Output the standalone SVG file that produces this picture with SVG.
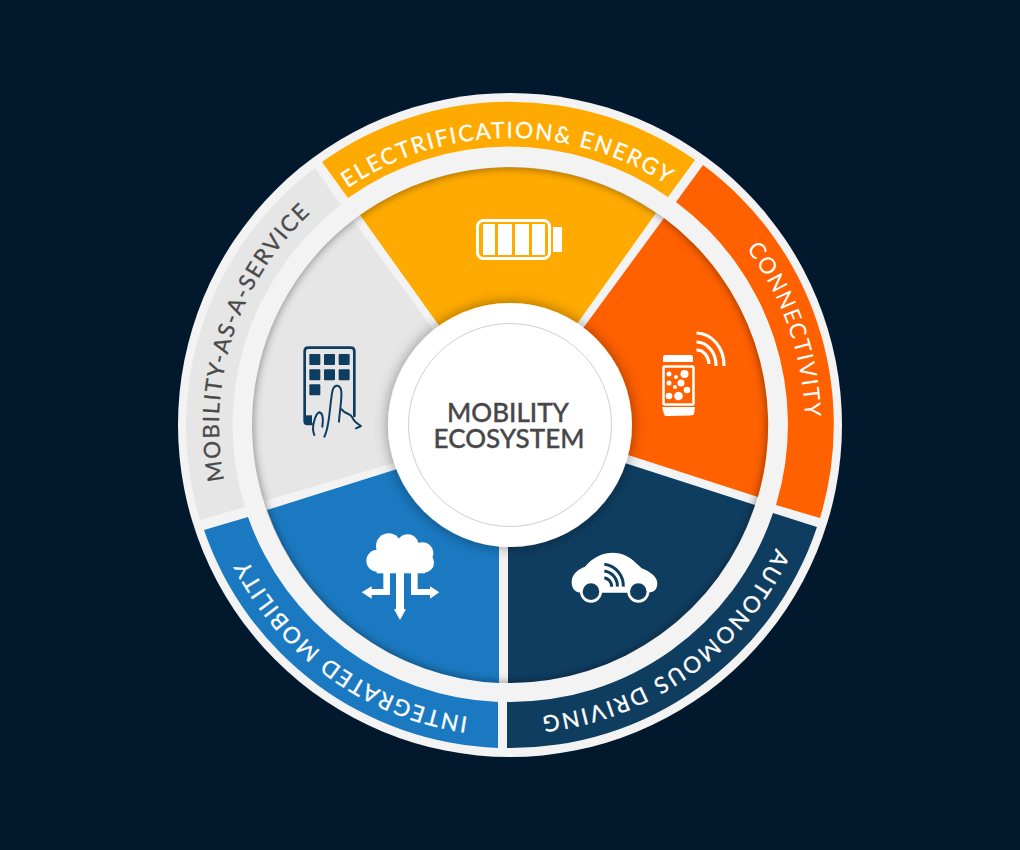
<svg xmlns="http://www.w3.org/2000/svg" width="1020" height="850" viewBox="0 0 1020 850">
<style>
.lbl{font-family:Lato,"Open Sans","Liberation Sans",sans-serif;font-size:22.500px;letter-spacing:2.2px;text-anchor:middle;stroke-width:.3px}
.ls16{letter-spacing:1.6px}
.ls18{letter-spacing:1.85px}
.ls12{letter-spacing:1.65px}
.w{fill:#fff}
.ws{fill:none;stroke:#fff}
.n{fill:none;stroke:#0f3d60;stroke-linecap:round;stroke-linejoin:round}
.nf{fill:#0f3d60}
.ctr{font-family:Lato,"Open Sans","Liberation Sans",sans-serif;font-size:26px;font-weight:500;fill:#47474a;text-anchor:middle;stroke:#47474a;stroke-width:.35px}
</style>
<defs>
<path id="arc287" d="M223 425A287 287 0 0 1 797 425"/>
<path id="arc291" d="M219 425A291 291 0 0 1 801 425"/>
<path id="arc293" d="M217 425A293 293 0 0 1 803 425"/>
<path id="arc295" d="M215 425A295 295 0 0 1 805 425"/>
<clipPath id="inner"><circle cx="510" cy="425" r="258"/></clipPath>
<filter id="blur" x="-10%" y="-10%" width="120%" height="120%"><feGaussianBlur stdDeviation="5"/></filter>
<filter id="ds" x="-30%" y="-30%" width="160%" height="160%"><feDropShadow dx="0" dy="0" stdDeviation="7" flood-color="#000" flood-opacity=".4"/></filter>
</defs>
<rect width="1020" height="850" fill="#02192d"/>
<circle cx="510" cy="425" r="332" fill="#f3f3f3"/>
<g id="connectors"></g>
<g id="electrification">
<path fill="#ffaa00" d="M322 162A323 323 0 0 1 695 160L668 197A277 277 0 0 0 348 198Z"/>
<path fill="#ffaa00" d="M360 215A258 258 0 0 1 656 213L505 425H510Z"/>
<text class="lbl ls18" fill="#fff" stroke="#fff" transform="rotate(-0.500 510 425)"><textPath href="#arc287" startOffset="50%">ELECTRIFICATION&amp; ENERGY</textPath></text>
</g>
<g id="connectivity">
<path fill="#ff6000" d="M703 165A323 323 0 0 1 820 518L776 505A277 277 0 0 0 676 202Z"/>
<path fill="#ff6000" d="M664 218A258 258 0 0 1 758 497L520 420L512 425Z"/>
<text class="lbl ls16" fill="#fff" transform="rotate(71 510 425)"><textPath href="#arc295" startOffset="50%">CONNECTIVITY</textPath></text>
</g>
<g id="autonomous">
<path fill="#0f3d60" d="M817 527A323 323 0 0 1 507 748V702A277 277 0 0 0 773 513Z"/>
<path fill="#0f3d60" d="M755 505A258 258 0 0 1 508 683V426H510Z"/>
<text class="lbl" fill="#fff" stroke="#fff" transform="rotate(144.500 510 425)"><textPath href="#arc293" startOffset="50%">AUTONOMOUS DRIVING</textPath></text>
</g>
<g id="integrated">
<path fill="#1a79c0" d="M498 748A323 323 0 0 1 204 530L248 517A277 277 0 0 0 498 702Z"/>
<path fill="#1a79c0" d="M499 683A258 258 0 0 1 267 510L499 437Z"/>
<text class="lbl ls18" fill="#fff" stroke="#fff" transform="rotate(215.700 510 425)"><textPath href="#arc295" startOffset="50%">INTEGRATED MOBILITY</textPath></text>
</g>
<g id="maas">
<path fill="#e6e6e6" d="M200 520A323 323 0 0 1 315 168L341 205A277 277 0 0 0 245 507Z"/>
<path fill="#e6e6e6" d="M264 501A258 258 0 0 1 353 220L500 420L500 432Z"/>
<text class="lbl ls12" fill="#4a4a4a" stroke="#4a4a4a" transform="rotate(288 510 425)"><textPath href="#arc291" startOffset="50%">MOBILITY-AS-A-SERVICE</textPath></text>
</g>
<g clip-path="url(#inner)"><circle cx="510" cy="425" r="262" fill="none" stroke="#000" stroke-opacity=".5" stroke-width="8" filter="url(#blur)"/></g>
<g id="icon-battery">
<rect class="ws" x="477.500" y="220.500" width="72" height="38" rx="6" stroke-width="3"/>
<path class="w" d="M483 224h12v31h-12zM498 224h14v31h-14zM515 224h14v31h-14zM532 224h13v31h-13zM553 227h9v25h-9z"/>
</g>
<g id="icon-watch">
<path class="w" d="M665 355H691Q693 355 693 358V362H663V358Q663 355 665 355ZM662 407H695L694 414Q694 415 690 415.500L667 416Q664 416 664 414Z"/>
<rect class="ws" x="663.500" y="366.500" width="30" height="38" rx="1" stroke-width="2.500"/>
<g class="w"><circle cx="669" cy="374" r="2.500"/><circle cx="676" cy="377" r="2"/><circle cx="684.500" cy="374" r="4"/><circle cx="669" cy="383" r="2.500"/><circle cx="681" cy="383" r="3.500"/><circle cx="675" cy="387" r="2"/><circle cx="687" cy="390" r="3.300"/><circle cx="669" cy="396" r="3.300"/><circle cx="678.500" cy="396" r="4.300"/></g>
<path class="ws" stroke-width="3.200" d="M696.500 333A28 32 0 0 1 724 366M696.500 342A20 23 0 0 1 716 366M696.500 350A12 15 0 0 1 709 364"/>
</g>
<g id="icon-car" transform="translate(560 540) scale(.3333)">
<path class="w" d="M35 125C35 100 60 85 75 80C100 50 130 38 160 38C200 38 225 65 245 85C270 95 292 110 292 130C292 150 280 158 262 158H65C45 158 35 145 35 125Z"/>
<g fill="#0f3d60" stroke="#fff" stroke-width="8"><circle cx="93" cy="155" r="29"/><circle cx="235" cy="155" r="29"/></g>
<path fill="none" stroke="#0f3d60" stroke-width="9" d="M133 73A65 65 0 0 1 190 140M133 93A45 45 0 0 1 172 140M133 113A27 27 0 0 1 155 140"/>
</g>
<g id="icon-cloud" transform="translate(350 520) scale(.3333)">
<g class="w"><circle cx="82" cy="122" r="33"/><circle cx="116" cy="78" r="38"/><circle cx="173" cy="76" r="33"/><circle cx="217" cy="100" r="33"/><circle cx="222" cy="128" r="30"/><rect x="80" y="90" width="145" height="70"/>
<path d="M138 155H162V268H168L150 300L132 268H138ZM100 155H120V225H65V236L35 217L65 199V207H100ZM183 155H203V207H240V199L268 217L240 236V225H183Z"/></g>
</g>
<g id="icon-tablet" transform="translate(280 330) scale(.3333)">
<path class="n" stroke-width="8" d="M95 282H82Q74 282 74 272V64Q74 53 85 53H212Q223 53 223 64V258"/>
<g class="nf"><rect x="88" y="72" width="33" height="33" rx="3"/><rect x="132" y="72" width="33" height="33" rx="3"/><rect x="176" y="72" width="33" height="33" rx="3"/><rect x="88" y="118" width="33" height="33" rx="3"/><rect x="132" y="118" width="33" height="33" rx="3"/><rect x="176" y="118" width="33" height="33" rx="3"/><rect x="88" y="163" width="33" height="33" rx="3"/><rect x="78" y="256" width="18" height="28"/></g>
<path class="n" stroke-width="6" d="M103 315C92 290 108 250 118 247C130 250 130 270 127 290M133 320C150 290 148 225 158 180C165 160 182 165 184 185C186 210 178 250 177 275M185 238C198 255 210 248 217 262C222 275 232 280 243 288L228 295"/>
</g>
<g id="center">
<circle cx="510" cy="425" r="122" fill="#fff" filter="url(#ds)"/>
<circle cx="510" cy="425" r="101.500" fill="none" stroke="#cfcfcf" stroke-width="1"/>
<text class="ctr" x="508" y="421.500">MOBILITY</text>
<text class="ctr" x="509" y="448">ECOSYSTEM</text>
</g>
</svg>
